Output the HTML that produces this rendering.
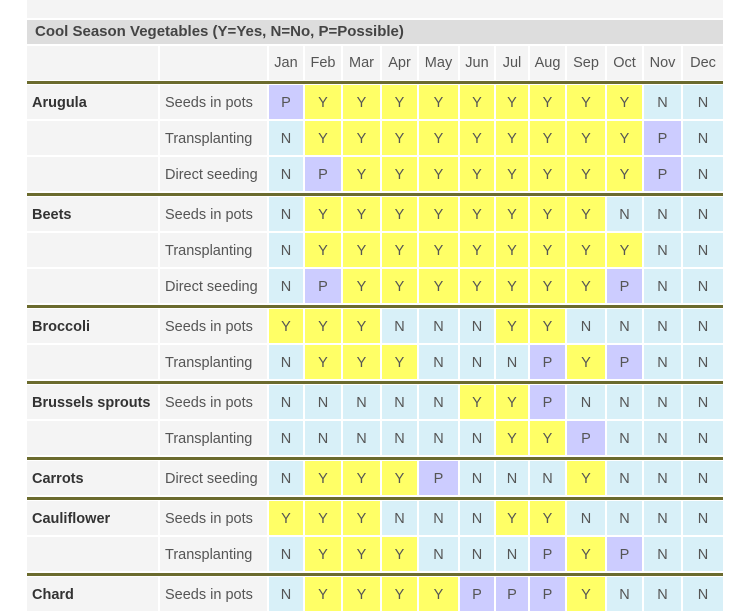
<!DOCTYPE html>
<html><head><meta charset="utf-8"><style>
body{margin:0;background:#fff;width:749px;height:599px;overflow:hidden;font-family:"Liberation Sans",Arial,sans-serif;font-size:14.5px;color:#555}
#w{position:absolute;left:27px;top:0;width:696px}
.top{height:18px;background:#f4f4f4}
.title{margin-top:2px;height:24px;background:#ddd;font-weight:bold;color:#444;line-height:24px;padding-left:8px;font-size:15px}
.r{display:flex;gap:2px;height:34px;margin-top:2px}
.r div{line-height:36px;text-align:center;flex:none}
.hd div{line-height:34px}
.hd{height:34px}
.l{width:131px;background:#f4f4f4;text-align:left!important;font-weight:bold;color:#333;padding-left:0}
.l span{padding-left:5px}
.t{width:107px;background:#f4f4f4;text-align:left!important}
.t span{padding-left:5px}
.g{background:#f4f4f4}
.Y{background:#ffff66}.N{background:#d8f0f8}.P{background:#ccccff}
.sep{height:3px;background:#6b6b2e;margin-top:2px;margin-bottom:-1px}
.hsep{height:3px;background:#6b6b2e;margin-top:1px;margin-bottom:-1px}
.c1{width:34px}.c2{width:36px}.c3{width:37px}.c4{width:35px}.c5{width:39px}.c6{width:34px}.c7{width:32px}.c8{width:35px}.c9{width:38px}.c10{width:35px}.c11{width:37px}.c12{width:40px}
</style></head><body><div id="w">
<div class="top"></div>
<div class="title">Cool Season Vegetables (Y=Yes, N=No, P=Possible)</div>
<div class="r hd"><div class="l"></div><div class="t"></div><div class="g c1">Jan</div><div class="g c2">Feb</div><div class="g c3">Mar</div><div class="g c4">Apr</div><div class="g c5">May</div><div class="g c6">Jun</div><div class="g c7">Jul</div><div class="g c8">Aug</div><div class="g c9">Sep</div><div class="g c10">Oct</div><div class="g c11">Nov</div><div class="g c12">Dec</div></div>
<div class="hsep"></div>

<div class="r"><div class="l"><span>Arugula</span></div><div class="t"><span>Seeds in pots</span></div><div class="P c1">P</div><div class="Y c2">Y</div><div class="Y c3">Y</div><div class="Y c4">Y</div><div class="Y c5">Y</div><div class="Y c6">Y</div><div class="Y c7">Y</div><div class="Y c8">Y</div><div class="Y c9">Y</div><div class="Y c10">Y</div><div class="N c11">N</div><div class="N c12">N</div></div>
<div class="r"><div class="l"></div><div class="t"><span>Transplanting</span></div><div class="N c1">N</div><div class="Y c2">Y</div><div class="Y c3">Y</div><div class="Y c4">Y</div><div class="Y c5">Y</div><div class="Y c6">Y</div><div class="Y c7">Y</div><div class="Y c8">Y</div><div class="Y c9">Y</div><div class="Y c10">Y</div><div class="P c11">P</div><div class="N c12">N</div></div>
<div class="r"><div class="l"></div><div class="t"><span>Direct seeding</span></div><div class="N c1">N</div><div class="P c2">P</div><div class="Y c3">Y</div><div class="Y c4">Y</div><div class="Y c5">Y</div><div class="Y c6">Y</div><div class="Y c7">Y</div><div class="Y c8">Y</div><div class="Y c9">Y</div><div class="Y c10">Y</div><div class="P c11">P</div><div class="N c12">N</div></div>
<div class="sep"></div>

<div class="r"><div class="l"><span>Beets</span></div><div class="t"><span>Seeds in pots</span></div><div class="N c1">N</div><div class="Y c2">Y</div><div class="Y c3">Y</div><div class="Y c4">Y</div><div class="Y c5">Y</div><div class="Y c6">Y</div><div class="Y c7">Y</div><div class="Y c8">Y</div><div class="Y c9">Y</div><div class="N c10">N</div><div class="N c11">N</div><div class="N c12">N</div></div>
<div class="r"><div class="l"></div><div class="t"><span>Transplanting</span></div><div class="N c1">N</div><div class="Y c2">Y</div><div class="Y c3">Y</div><div class="Y c4">Y</div><div class="Y c5">Y</div><div class="Y c6">Y</div><div class="Y c7">Y</div><div class="Y c8">Y</div><div class="Y c9">Y</div><div class="Y c10">Y</div><div class="N c11">N</div><div class="N c12">N</div></div>
<div class="r"><div class="l"></div><div class="t"><span>Direct seeding</span></div><div class="N c1">N</div><div class="P c2">P</div><div class="Y c3">Y</div><div class="Y c4">Y</div><div class="Y c5">Y</div><div class="Y c6">Y</div><div class="Y c7">Y</div><div class="Y c8">Y</div><div class="Y c9">Y</div><div class="P c10">P</div><div class="N c11">N</div><div class="N c12">N</div></div>
<div class="sep"></div>

<div class="r"><div class="l"><span>Broccoli</span></div><div class="t"><span>Seeds in pots</span></div><div class="Y c1">Y</div><div class="Y c2">Y</div><div class="Y c3">Y</div><div class="N c4">N</div><div class="N c5">N</div><div class="N c6">N</div><div class="Y c7">Y</div><div class="Y c8">Y</div><div class="N c9">N</div><div class="N c10">N</div><div class="N c11">N</div><div class="N c12">N</div></div>
<div class="r"><div class="l"></div><div class="t"><span>Transplanting</span></div><div class="N c1">N</div><div class="Y c2">Y</div><div class="Y c3">Y</div><div class="Y c4">Y</div><div class="N c5">N</div><div class="N c6">N</div><div class="N c7">N</div><div class="P c8">P</div><div class="Y c9">Y</div><div class="P c10">P</div><div class="N c11">N</div><div class="N c12">N</div></div>
<div class="sep"></div>

<div class="r"><div class="l"><span>Brussels sprouts</span></div><div class="t"><span>Seeds in pots</span></div><div class="N c1">N</div><div class="N c2">N</div><div class="N c3">N</div><div class="N c4">N</div><div class="N c5">N</div><div class="Y c6">Y</div><div class="Y c7">Y</div><div class="P c8">P</div><div class="N c9">N</div><div class="N c10">N</div><div class="N c11">N</div><div class="N c12">N</div></div>
<div class="r"><div class="l"></div><div class="t"><span>Transplanting</span></div><div class="N c1">N</div><div class="N c2">N</div><div class="N c3">N</div><div class="N c4">N</div><div class="N c5">N</div><div class="N c6">N</div><div class="Y c7">Y</div><div class="Y c8">Y</div><div class="P c9">P</div><div class="N c10">N</div><div class="N c11">N</div><div class="N c12">N</div></div>
<div class="sep"></div>

<div class="r"><div class="l"><span>Carrots</span></div><div class="t"><span>Direct seeding</span></div><div class="N c1">N</div><div class="Y c2">Y</div><div class="Y c3">Y</div><div class="Y c4">Y</div><div class="P c5">P</div><div class="N c6">N</div><div class="N c7">N</div><div class="N c8">N</div><div class="Y c9">Y</div><div class="N c10">N</div><div class="N c11">N</div><div class="N c12">N</div></div>
<div class="sep"></div>

<div class="r"><div class="l"><span>Cauliflower</span></div><div class="t"><span>Seeds in pots</span></div><div class="Y c1">Y</div><div class="Y c2">Y</div><div class="Y c3">Y</div><div class="N c4">N</div><div class="N c5">N</div><div class="N c6">N</div><div class="Y c7">Y</div><div class="Y c8">Y</div><div class="N c9">N</div><div class="N c10">N</div><div class="N c11">N</div><div class="N c12">N</div></div>
<div class="r"><div class="l"></div><div class="t"><span>Transplanting</span></div><div class="N c1">N</div><div class="Y c2">Y</div><div class="Y c3">Y</div><div class="Y c4">Y</div><div class="N c5">N</div><div class="N c6">N</div><div class="N c7">N</div><div class="P c8">P</div><div class="Y c9">Y</div><div class="P c10">P</div><div class="N c11">N</div><div class="N c12">N</div></div>
<div class="sep"></div>

<div class="r"><div class="l"><span>Chard</span></div><div class="t"><span>Seeds in pots</span></div><div class="N c1">N</div><div class="Y c2">Y</div><div class="Y c3">Y</div><div class="Y c4">Y</div><div class="Y c5">Y</div><div class="P c6">P</div><div class="P c7">P</div><div class="P c8">P</div><div class="Y c9">Y</div><div class="N c10">N</div><div class="N c11">N</div><div class="N c12">N</div></div>
</div></body></html>
